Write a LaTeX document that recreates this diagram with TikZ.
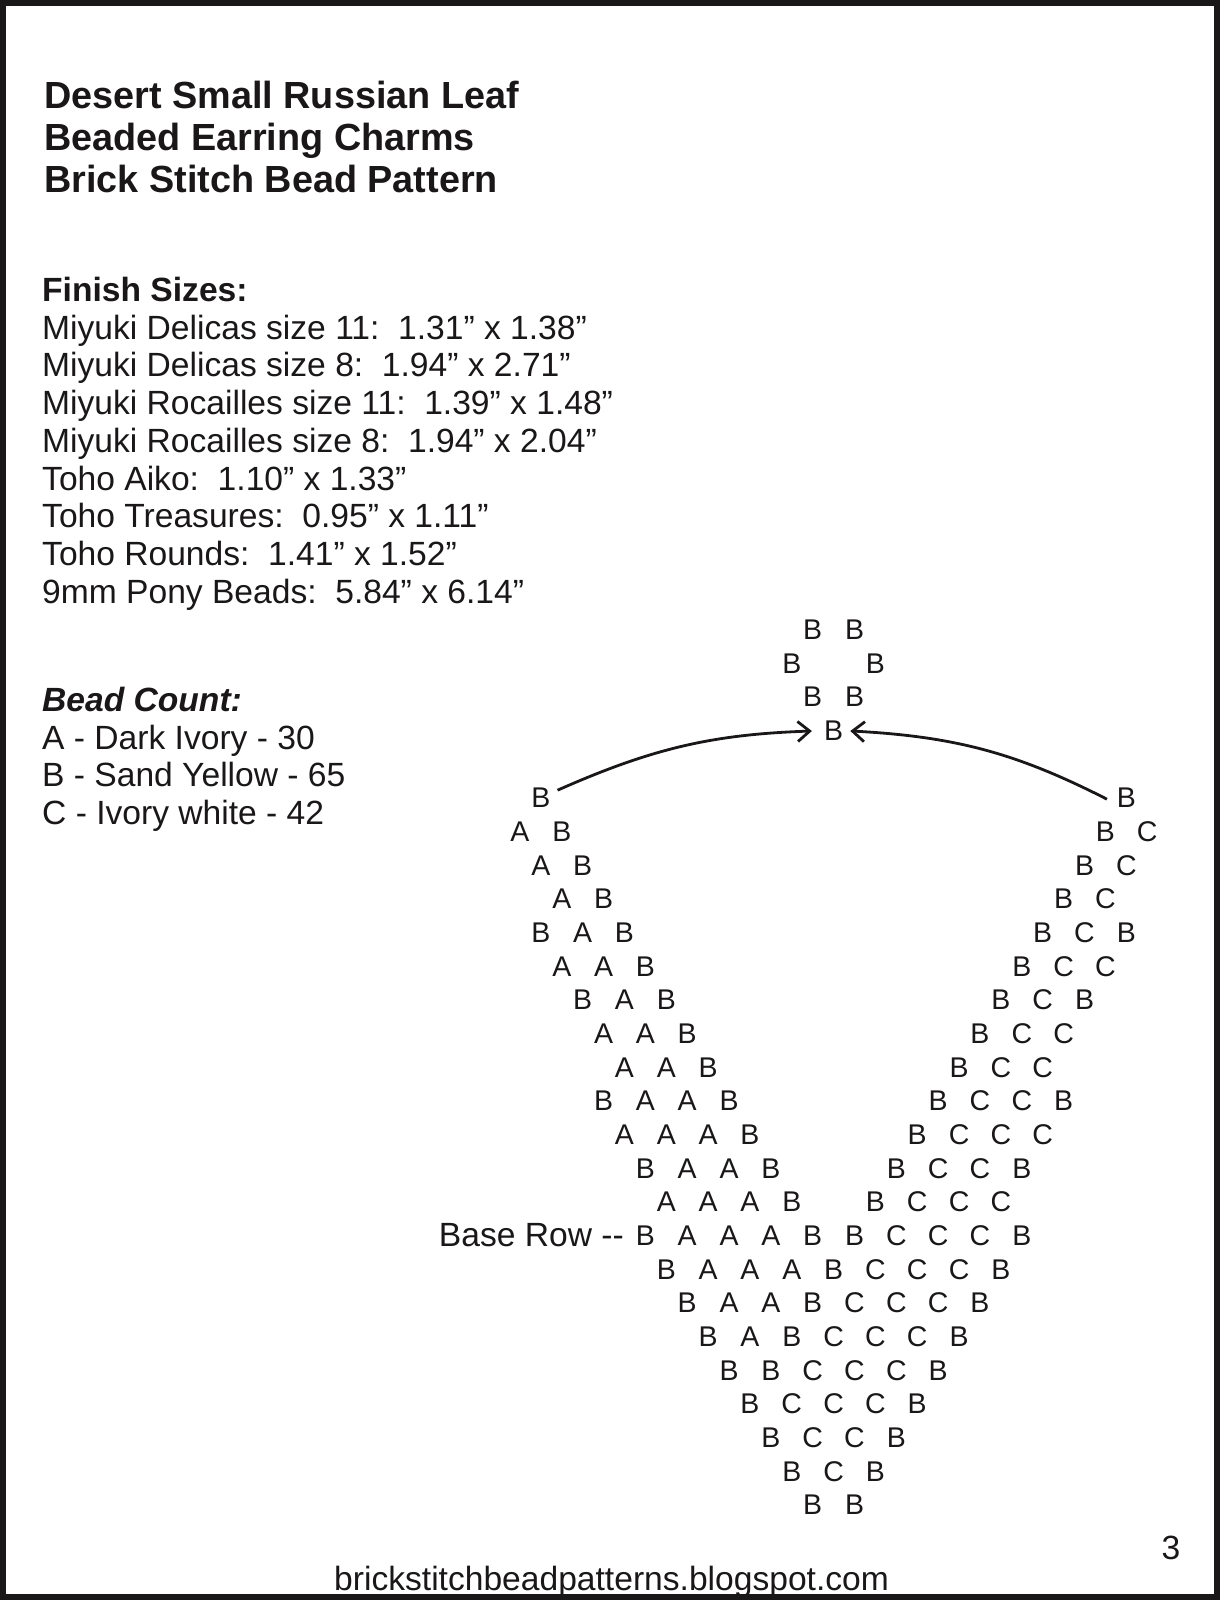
\documentclass[tikz,border=0pt]{standalone}
\usepackage{fontspec}
\setmainfont{Liberation Sans}
\usetikzlibrary{arrows.meta}
\definecolor{ink}{HTML}{1A1718}
\tikzset{
  bead/.style={inner sep=7pt,text height=20.4pt,text depth=0pt,font=\fontsize{28.5}{28.5}\selectfont},
  heading/.style={anchor=north west,inner sep=0pt,align=left,font=\bfseries\fontsize{37.8}{42}\selectfont},
  body/.style={anchor=north west,inner sep=0pt,align=left,font=\fontsize{33.6}{37.7}\selectfont},
  pointer/.style={-{Straight Barb[length=12pt,width=20pt]},line width=2.8pt}
}
\begin{document}
\begin{tikzpicture}[x=1pt,y=-1pt,text=ink,draw=ink]
      \useasboundingbox (0,0) rectangle (1220,1600);
      \draw[line width=6pt] (3,3) rectangle (1217,1597);
      \node[heading] (title) at (44,81) {Desert Small Russian Leaf\\Beaded Earring Charms\\Brick Stitch Bead Pattern};
      \node[body] (sizes) at (42,277) {\textbf{Finish Sizes:}\\
        Miyuki Delicas size 11:\ \ 1.31” x 1.38”\\
        Miyuki Delicas size 8:\ \ 1.94” x 2.71”\\
        Miyuki Rocailles size 11:\ \ 1.39” x 1.48”\\
        Miyuki Rocailles size 8:\ \ 1.94” x 2.04”\\
        Toho Aiko:\ \ 1.10” x 1.33”\\
        Toho Treasures:\ \ 0.95” x 1.11”\\
        Toho Rounds:\ \ 1.41” x 1.52”\\
        9mm Pony Beads:\ \ 5.84” x 6.14”};
      \node[body] (count) at (42,687) {\textbf{\itshape Bead Count:}\\
        A - Dark Ivory - 30\\
        B - Sand Yellow - 65\\
        C - Ivory white - 42};
      \node[anchor=base east,inner sep=0pt,font=\fontsize{33.6}{33.6}\selectfont] (baserow) at (624,1246) {Base Row {-}{-}};
      \node[anchor=base west,inner sep=0pt,font=\fontsize{33.6}{33.6}\selectfont] (blog) at (334,1590) {brickstitchbeadpatterns.blogspot.com};
      \node[anchor=base,inner sep=0pt,font=\fontsize{33.6}{33.6}\selectfont] (page) at (1171,1559) {3};
      \begin{scope}[shift={(645.4,629.3)},x=20.91pt,y=-33.66pt]
        \draw
          (8,0) node[bead] (0){B} (10,0) node[bead] (1){B}
          (7,1) node[bead] (2){B} (11,1) node[bead] (3){B}
          (8,2) node[bead] (4){B} (10,2) node[bead] (5){B}
          (9,3) node[bead] (6){B}
          (-5,5) node[bead] (7){B} (23,5) node[bead] (8){B}
          (-6,6) node[bead] (9){A} (-4,6) node[bead] (10){B} (22,6) node[bead] (11){B} (24,6) node[bead] (12){C}
          (-5,7) node[bead] (13){A} (-3,7) node[bead] (14){B} (21,7) node[bead] (15){B} (23,7) node[bead] (16){C}
          (-4,8) node[bead] (17){A} (-2,8) node[bead] (18){B} (20,8) node[bead] (19){B} (22,8) node[bead] (20){C}
          (-5,9) node[bead] (21){B} (-3,9) node[bead] (22){A} (-1,9) node[bead] (23){B} (19,9) node[bead] (24){B} (21,9) node[bead] (25){C} (23,9) node[bead] (26){B}
          (-4,10) node[bead] (27){A} (-2,10) node[bead] (28){A} (0,10) node[bead] (29){B} (18,10) node[bead] (30){B} (20,10) node[bead] (31){C} (22,10) node[bead] (32){C}
          (-3,11) node[bead] (33){B} (-1,11) node[bead] (34){A} (1,11) node[bead] (35){B} (17,11) node[bead] (36){B} (19,11) node[bead] (37){C} (21,11) node[bead] (38){B}
          (-2,12) node[bead] (39){A} (0,12) node[bead] (40){A} (2,12) node[bead] (41){B} (16,12) node[bead] (42){B} (18,12) node[bead] (43){C} (20,12) node[bead] (44){C}
          (-1,13) node[bead] (45){A} (1,13) node[bead] (46){A} (3,13) node[bead] (47){B} (15,13) node[bead] (48){B} (17,13) node[bead] (49){C} (19,13) node[bead] (50){C}
          (-2,14) node[bead] (51){B} (0,14) node[bead] (52){A} (2,14) node[bead] (53){A} (4,14) node[bead] (54){B} (14,14) node[bead] (55){B} (16,14) node[bead] (56){C} (18,14) node[bead] (57){C} (20,14) node[bead] (58){B}
          (-1,15) node[bead] (59){A} (1,15) node[bead] (60){A} (3,15) node[bead] (61){A} (5,15) node[bead] (62){B} (13,15) node[bead] (63){B} (15,15) node[bead] (64){C} (17,15) node[bead] (65){C} (19,15) node[bead] (66){C}
          (0,16) node[bead] (67){B} (2,16) node[bead] (68){A} (4,16) node[bead] (69){A} (6,16) node[bead] (70){B} (12,16) node[bead] (71){B} (14,16) node[bead] (72){C} (16,16) node[bead] (73){C} (18,16) node[bead] (74){B}
          (1,17) node[bead] (75){A} (3,17) node[bead] (76){A} (5,17) node[bead] (77){A} (7,17) node[bead] (78){B} (11,17) node[bead] (79){B} (13,17) node[bead] (80){C} (15,17) node[bead] (81){C} (17,17) node[bead] (82){C}
          (0,18) node[bead] (83){B} (2,18) node[bead] (84){A} (4,18) node[bead] (85){A} (6,18) node[bead] (86){A} (8,18) node[bead] (87){B} (10,18) node[bead] (88){B} (12,18) node[bead] (89){C} (14,18) node[bead] (90){C} (16,18) node[bead] (91){C} (18,18) node[bead] (92){B}
          (1,19) node[bead] (93){B} (3,19) node[bead] (94){A} (5,19) node[bead] (95){A} (7,19) node[bead] (96){A} (9,19) node[bead] (97){B} (11,19) node[bead] (98){C} (13,19) node[bead] (99){C} (15,19) node[bead] (100){C} (17,19) node[bead] (101){B}
          (2,20) node[bead] (102){B} (4,20) node[bead] (103){A} (6,20) node[bead] (104){A} (8,20) node[bead] (105){B} (10,20) node[bead] (106){C} (12,20) node[bead] (107){C} (14,20) node[bead] (108){C} (16,20) node[bead] (109){B}
          (3,21) node[bead] (110){B} (5,21) node[bead] (111){A} (7,21) node[bead] (112){B} (9,21) node[bead] (113){C} (11,21) node[bead] (114){C} (13,21) node[bead] (115){C} (15,21) node[bead] (116){B}
          (4,22) node[bead] (117){B} (6,22) node[bead] (118){B} (8,22) node[bead] (119){C} (10,22) node[bead] (120){C} (12,22) node[bead] (121){C} (14,22) node[bead] (122){B}
          (5,23) node[bead] (123){B} (7,23) node[bead] (124){C} (9,23) node[bead] (125){C} (11,23) node[bead] (126){C} (13,23) node[bead] (127){B}
          (6,24) node[bead] (128){B} (8,24) node[bead] (129){C} (10,24) node[bead] (130){C} (12,24) node[bead] (131){B}
          (7,25) node[bead] (132){B} (9,25) node[bead] (133){C} (11,25) node[bead] (134){B}
          (8,26) node[bead] (135){B} (10,26) node[bead] (136){B};
        \draw[pointer,shorten >=5pt] (7) to[bend left=11] (6);
        \draw[pointer,shorten <=3pt] (8.190) to[bend right=12] (6);
      \end{scope}
    \end{tikzpicture}
\end{document}
